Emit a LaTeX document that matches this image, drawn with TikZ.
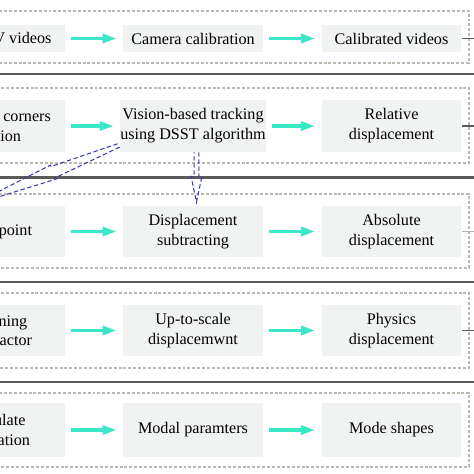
\documentclass[tikz,border=0pt]{standalone}
\usepackage{fontspec}
\setmainfont{Liberation Serif}
\usetikzlibrary{arrows.meta,calc}

\definecolor{boxgray}{RGB}{241,242,242}
\definecolor{flowcyan}{RGB}{60,230,200}
\definecolor{framegray}{RGB}{188,184,178}
\definecolor{rulegray}{RGB}{90,90,90}
\definecolor{linkblue}{RGB}{60,60,170}

% hollow dashed arrow: tail, tip, tail half width, neck half width,
% head half width, head length
\newcommand\hollowarrow[6]{%
  \coordinate (ha-n) at ($(#2)!#6!(#1)$);
  \draw[hollow] ($(#1)!#3!90:(#2)$) -- ($(ha-n)!#4!90:(#2)$)
    -- ($(ha-n)!#5!90:(#2)$) -- (#2) -- ($(ha-n)!#5!-90:(#2)$)
    -- ($(ha-n)!#4!-90:(#2)$) -- ($(#1)!#3!-90:(#2)$);
}

\begin{document}
\begin{tikzpicture}[x=0.02cm, y=-0.02cm,
  stage/.style={fill=boxgray, minimum width=2.8cm, minimum height=1.04cm,
    inner xsep=0pt, align=center, font=\fontsize{9.2}{11.3}\selectfont},
  flow/.style={-{Triangle[length=8pt,width=5pt]}, flowcyan, line width=2pt,
    shorten <=3.4pt, shorten >=3.4pt},
  frame/.style={draw=framegray, dash pattern=on 1.7pt off 1.1pt, line width=0.6pt},
  rule/.style={rulegray, line width=1.2pt},
  hollow/.style={linkblue, dash pattern=on 2.5pt off 1.5pt, line width=0.6pt}]
  \useasboundingbox (0,0) rectangle (474,474);
  \fill[white] (0,0) rectangle (474,474);
  \clip (0,0) rectangle (474,474);

  % row frames and separators
  \draw[frame] (-200,11) rectangle (469,63);
  \draw[frame] (-200,88) rectangle (469,163);
  \draw[frame] (-200,194) rectangle (469,268);
  \draw[frame] (-200,293) rectangle (469,368);
  \draw[frame] (-200,393) rectangle (469,467);
  \foreach \y in {74,177.5,282,382}
    \draw[rule] (-10,\y) -- (484,\y);

  % stages
  \node[stage, minimum height=0.54cm] (raw)    at (-5,38.5)  {Raw UAV videos};
  \node[stage, minimum height=0.54cm] (camcal) at (193,38.5) {Camera calibration};
  \node[stage, minimum height=0.54cm] (calvid) at (391.5,38.5) {Calibrated videos};

  \node[stage] (corner)  at (-5,126)    {Selecting corners\\location};
  \node[stage] (track)   at (193,126)   {Vision-based tracking\\using DSST algorithm};
  \node[stage] (reldisp) at (391.5,126) {Relative\\displacement};

  \node[stage] (fixpt)   at (-5,231.5)    {Fixed point};
  \node[stage] (subtr)   at (193,231.5)   {Displacement\\subtracting};
  \node[stage] (absdisp) at (391.5,231.5) {Absolute\\displacement};

  \node[stage] (scale)    at (-5,330.5)    {Obtaining\\scale factor};
  \node[stage] (upscale)  at (193,330.5)   {Up-to-scale\\displacemwnt};
  \node[stage] (physdisp) at (391.5,330.5) {Physics\\displacement};

  \node[stage, minimum height=1.08cm] (corr)   at (-5,430)    {Calculate\\correlation};
  \node[stage, minimum height=1.08cm] (modal)  at (193,430)   {Modal paramters};
  \node[stage, minimum height=1.08cm] (shapes) at (391.5,430) {Mode shapes};

  % flow inside each row
  \foreach \a/\b in {raw/camcal, camcal/calvid, corner/track, track/reldisp,
      fixpt/subtr, subtr/absdisp, scale/upscale, upscale/physdisp,
      corr/modal, modal/shapes}
    \draw[flow] (\a) -- (\b);

  % leads to the right
  \draw[rulegray, line width=0.7pt] (calvid.east) -- ++(20,0);
  \draw[rulegray, line width=0.7pt] (reldisp.east) -- ++(20,0);
  \draw[gray!60, line width=0.7pt] (absdisp.east) -- ++(20,0);
  \draw[rulegray, line width=0.7pt] (physdisp.east) -- ++(20,0);

  % tracked output fed downwards
  \coordinate (dtail) at ($(track.south west)+(-1,-7)$);
  \coordinate (dtip)  at ($(fixpt.north)+(-23,0)$);
  \hollowarrow{dtail}{dtip}{1.1pt}{3.4pt}{4.3pt}{50pt}
  \coordinate (vtail) at ($(track.south)+(3.5,0)$);
  \coordinate (vtip)  at ($(subtr.north)+(3.5,-3)$);
  \hollowarrow{vtail}{vtip}{1.4pt}{1.4pt}{3.1pt}{14.7pt}
\end{tikzpicture}
\end{document}
